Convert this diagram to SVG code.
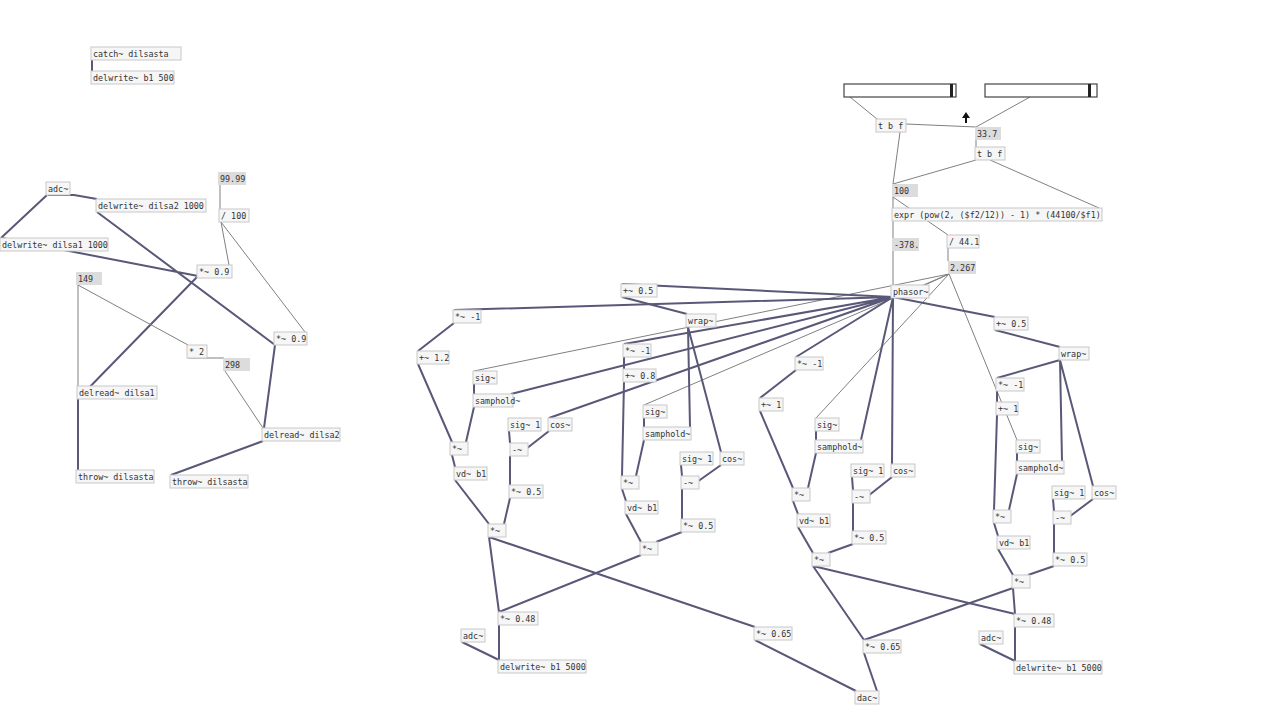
<svg xmlns="http://www.w3.org/2000/svg" width="1280" height="720" viewBox="0 0 1280 720">
<style>
.o rect{fill:#f6f6f6;stroke:#c8c8c8;stroke-width:1}
.a rect{fill:#dcdcdc;stroke:none}
text{font-family:"DejaVu Sans Mono","Liberation Mono",monospace;font-size:8.4px;fill:#333}
.s{stroke:#5a5878;stroke-width:2;fill:none}
.c{stroke:#808080;stroke-width:1;fill:none}
.sl{fill:#fff;stroke:#444;stroke-width:1.2}
</style>
<rect width="1280" height="720" fill="#fff"/>
<g id="connectors">
<path class="s" d="M92 60L92 71"/>
<path class="s" d="M47 195L1 238M48 195L74 195L97 199M97 212L275 345M2 238L198 276M263 441L171 475M275 345L264 428M78 399L198 276M78 399L78 470"/>
<path class="c" d="M220 185L220 209M221 222L229 265M221 222L305 332M78 285L78 386M78 285L188 345M188 358L224 358M225 371L263 428"/>
<path class="c" d="M850 97L877 119M1030 97L976 127M906 124L976 127M900 132L893 184M976 140L976 147M976 160L893 184M990 160L1099 208M893 197L893 208M893 197L948 235M893 221L893 238M893 251L893 285M948 248L948 261M949 274L925 285M949 274L474 371M949 274L644 405M949 274L816 418M949 274L1017 440"/>
<path class="s" d="M893 297L622 284M893 297L454 310M893 297L511 394M893 297L549 418M893 297L624 344M893 297L796 357M893 297L861 440M893 297L892 464M893 297L995 317"/>
<path class="s" d="M622 297L687 314M688 327L690 427M688 327L721 452M995 330L1060 347M1060 360L997 378M1060 360L1062 461M1060 360L1093 486"/>
<path class="s" d="M454 323L418 351M418 364L452 442M474 384L474 394M474 407L466 442M509 431L510 443M549 431L526 449M510 456L510 485M452 455L455 467M455 480L489 524M510 498L504 524"/>
<path class="s" d="M624 357L624 369M624 382L622 476M644 418L644 427M644 440L636 476M681 465L682 476M721 465L697 482M682 489L682 519M622 489L626 501M626 514L641 542M682 532L656 542"/>
<path class="s" d="M796 370L760 398M760 411L793 488M816 431L816 440M816 453L808 488M852 477L853 490M892 477L868 496M853 503L853 531M793 501L798 514M798 527L813 553M853 544L828 553"/>
<path class="s" d="M997 391L997 402M997 415L994 510M1017 453L1017 461M1017 474L1009 510M1053 499L1054 511M1093 499L1069 517M1054 524L1054 553M994 523L998 536M998 549L1013 575M1054 566L1028 575"/>
<path class="s" d="M489 537L499 612M489 537L755 627M641 555L499 612M813 566L864 640M813 566L1015 614M1013 588L1015 614M1013 588L864 640M499 625L499 660M462 642L499 660M755 640L856 691M864 653L877 691M1015 627L1015 661M980 644L1015 661"/>
</g>
<g id="sliders">
<rect class="sl" x="844" y="84" width="112" height="13"/><rect x="950" y="84" width="3" height="13" fill="#222"/>
<rect class="sl" x="985" y="84" width="112" height="13"/><rect x="1088" y="84" width="3" height="13" fill="#222"/>
<path d="M966 112L962 118L965 118L965 123L967 123L967 118L970 118Z" fill="#111"/>
</g>
<g id="n1" class="o"><rect x="91" y="47" width="90" height="13"/><text x="93" y="57">catch~ dilsasta</text></g>
<g id="n2" class="o"><rect x="91" y="71" width="83" height="13"/><text x="93" y="81">delwrite~ b1 500</text></g>
<g id="n3" class="o"><rect x="46" y="182" width="24" height="13"/><text x="48" y="192">adc~</text></g>
<g id="n4" class="o"><rect x="96" y="199" width="110" height="13"/><text x="98" y="209">delwrite~ dilsa2 1000</text></g>
<g id="n5" class="o"><rect x="0" y="238" width="108" height="13"/><text x="2" y="248">delwrite~ dilsa1 1000</text></g>
<g id="n6" class="a"><rect x="218" y="172" width="28" height="13"/><text x="220" y="182">99.99</text></g>
<g id="n7" class="o"><rect x="219" y="209" width="30" height="13"/><text x="221" y="219">/ 100</text></g>
<g id="n8" class="o"><rect x="197" y="265" width="35" height="13"/><text x="199" y="275">*~ 0.9</text></g>
<g id="n9" class="a"><rect x="76" y="272" width="26" height="13"/><text x="78" y="282">149</text></g>
<g id="n10" class="o"><rect x="274" y="332" width="33" height="13"/><text x="276" y="342">*~ 0.9</text></g>
<g id="n11" class="o"><rect x="187" y="345" width="20" height="13"/><text x="189" y="355">* 2</text></g>
<g id="n12" class="a"><rect x="223" y="358" width="27" height="13"/><text x="225" y="368">298</text></g>
<g id="n13" class="o"><rect x="77" y="386" width="80" height="13"/><text x="79" y="396">delread~ dilsa1</text></g>
<g id="n14" class="o"><rect x="262" y="428" width="78" height="13"/><text x="264" y="438">delread~ dilsa2</text></g>
<g id="n15" class="o"><rect x="76" y="470" width="78" height="13"/><text x="78" y="480">throw~ dilsasta</text></g>
<g id="n16" class="o"><rect x="170" y="475" width="78" height="13"/><text x="172" y="485">throw~ dilsasta</text></g>
<g id="n17" class="o"><rect x="876" y="119" width="30" height="13"/><text x="878" y="129">t b f</text></g>
<g id="n18" class="a"><rect x="975" y="127" width="26" height="13"/><text x="977" y="137">33.7</text></g>
<g id="n19" class="o"><rect x="975" y="147" width="30" height="13"/><text x="977" y="157">t b f</text></g>
<g id="n20" class="a"><rect x="892" y="184" width="26" height="13"/><text x="894" y="194">100</text></g>
<g id="n21" class="o"><rect x="892" y="208" width="210" height="13"/><text x="894" y="218">expr (pow(2, ($f2/12)) - 1) * (44100/$f1)</text></g>
<g id="n22" class="a"><rect x="892" y="238" width="27" height="13"/><text x="894" y="248">-378.</text></g>
<g id="n23" class="o"><rect x="947" y="235" width="32" height="13"/><text x="949" y="245">/ 44.1</text></g>
<g id="n24" class="a"><rect x="948" y="261" width="28" height="13"/><text x="950" y="271">2.267</text></g>
<g id="n25" class="o"><rect x="891" y="285" width="38" height="13"/><text x="893" y="295">phasor~</text></g>
<g id="c1a" class="o"><rect x="621" y="284" width="36" height="13"/><text x="623" y="294">+~ 0.5</text></g>
<g id="c1b" class="o"><rect x="453" y="310" width="28" height="13"/><text x="455" y="320">*~ -1</text></g>
<g id="c1c" class="o"><rect x="686" y="314" width="30" height="13"/><text x="688" y="324">wrap~</text></g>
<g id="c1d" class="o"><rect x="417" y="351" width="32" height="13"/><text x="419" y="361">+~ 1.2</text></g>
<g id="c1e" class="o"><rect x="473" y="371" width="24" height="13"/><text x="475" y="381">sig~</text></g>
<g id="c1f" class="o"><rect x="473" y="394" width="40" height="13"/><text x="475" y="404">samphold~</text></g>
<g id="c1g" class="o"><rect x="508" y="418" width="33" height="13"/><text x="510" y="428">sig~ 1</text></g>
<g id="c1h" class="o"><rect x="548" y="418" width="24" height="13"/><text x="550" y="428">cos~</text></g>
<g id="c1i" class="o"><rect x="450" y="442" width="18" height="13"/><text x="452" y="452">*~</text></g>
<g id="c1j" class="o"><rect x="510" y="443" width="18" height="13"/><text x="512" y="453">-~</text></g>
<g id="c1k" class="o"><rect x="454" y="467" width="33" height="13"/><text x="456" y="477">vd~ b1</text></g>
<g id="c1l" class="o"><rect x="509" y="485" width="34" height="13"/><text x="511" y="495">*~ 0.5</text></g>
<g id="c1m" class="o"><rect x="488" y="524" width="18" height="13"/><text x="490" y="534">*~</text></g>
<g id="c2a" class="o"><rect x="623" y="344" width="28" height="13"/><text x="625" y="354">*~ -1</text></g>
<g id="c2b" class="o"><rect x="623" y="369" width="33" height="13"/><text x="625" y="379">+~ 0.8</text></g>
<g id="c2c" class="o"><rect x="643" y="405" width="24" height="13"/><text x="645" y="415">sig~</text></g>
<g id="c2d" class="o"><rect x="643" y="427" width="48" height="13"/><text x="645" y="437">samphold~</text></g>
<g id="c2e" class="o"><rect x="680" y="452" width="33" height="13"/><text x="682" y="462">sig~ 1</text></g>
<g id="c2f" class="o"><rect x="720" y="452" width="24" height="13"/><text x="722" y="462">cos~</text></g>
<g id="c2g" class="o"><rect x="621" y="476" width="18" height="13"/><text x="623" y="486">*~</text></g>
<g id="c2h" class="o"><rect x="681" y="476" width="18" height="13"/><text x="683" y="486">-~</text></g>
<g id="c2i" class="o"><rect x="625" y="501" width="33" height="13"/><text x="627" y="511">vd~ b1</text></g>
<g id="c2j" class="o"><rect x="681" y="519" width="34" height="13"/><text x="683" y="529">*~ 0.5</text></g>
<g id="c2k" class="o"><rect x="640" y="542" width="18" height="13"/><text x="642" y="552">*~</text></g>
<g id="c3a" class="o"><rect x="795" y="357" width="28" height="13"/><text x="797" y="367">*~ -1</text></g>
<g id="c3b" class="o"><rect x="759" y="398" width="24" height="13"/><text x="761" y="408">+~ 1</text></g>
<g id="c3c" class="o"><rect x="815" y="418" width="24" height="13"/><text x="817" y="428">sig~</text></g>
<g id="c3d" class="o"><rect x="815" y="440" width="48" height="13"/><text x="817" y="450">samphold~</text></g>
<g id="c3e" class="o"><rect x="851" y="464" width="33" height="13"/><text x="853" y="474">sig~ 1</text></g>
<g id="c3f" class="o"><rect x="891" y="464" width="24" height="13"/><text x="893" y="474">cos~</text></g>
<g id="c3g" class="o"><rect x="792" y="488" width="18" height="13"/><text x="794" y="498">*~</text></g>
<g id="c3h" class="o"><rect x="852" y="490" width="18" height="13"/><text x="854" y="500">-~</text></g>
<g id="c3i" class="o"><rect x="797" y="514" width="33" height="13"/><text x="799" y="524">vd~ b1</text></g>
<g id="c3j" class="o"><rect x="852" y="531" width="34" height="13"/><text x="854" y="541">*~ 0.5</text></g>
<g id="c3k" class="o"><rect x="812" y="553" width="18" height="13"/><text x="814" y="563">*~</text></g>
<g id="c4a" class="o"><rect x="994" y="317" width="34" height="13"/><text x="996" y="327">+~ 0.5</text></g>
<g id="c4b" class="o"><rect x="1059" y="347" width="30" height="13"/><text x="1061" y="357">wrap~</text></g>
<g id="c4c" class="o"><rect x="996" y="378" width="28" height="13"/><text x="998" y="388">*~ -1</text></g>
<g id="c4d" class="o"><rect x="996" y="402" width="22" height="13"/><text x="998" y="412">+~ 1</text></g>
<g id="c4e" class="o"><rect x="1016" y="440" width="24" height="13"/><text x="1018" y="450">sig~</text></g>
<g id="c4f" class="o"><rect x="1016" y="461" width="48" height="13"/><text x="1018" y="471">samphold~</text></g>
<g id="c4g" class="o"><rect x="1052" y="486" width="33" height="13"/><text x="1054" y="496">sig~ 1</text></g>
<g id="c4h" class="o"><rect x="1092" y="486" width="24" height="13"/><text x="1094" y="496">cos~</text></g>
<g id="c4i" class="o"><rect x="993" y="510" width="18" height="13"/><text x="995" y="520">*~</text></g>
<g id="c4j" class="o"><rect x="1053" y="511" width="18" height="13"/><text x="1055" y="521">-~</text></g>
<g id="c4k" class="o"><rect x="997" y="536" width="33" height="13"/><text x="999" y="546">vd~ b1</text></g>
<g id="c4l" class="o"><rect x="1053" y="553" width="34" height="13"/><text x="1055" y="563">*~ 0.5</text></g>
<g id="c4m" class="o"><rect x="1012" y="575" width="18" height="13"/><text x="1014" y="585">*~</text></g>
<g id="b1" class="o"><rect x="498" y="612" width="40" height="13"/><text x="500" y="622">*~ 0.48</text></g>
<g id="b2" class="o"><rect x="461" y="629" width="24" height="13"/><text x="463" y="639">adc~</text></g>
<g id="b3" class="o"><rect x="498" y="660" width="88" height="13"/><text x="500" y="670">delwrite~ b1 5000</text></g>
<g id="b4" class="o"><rect x="754" y="627" width="38" height="13"/><text x="756" y="637">*~ 0.65</text></g>
<g id="b5" class="o"><rect x="863" y="640" width="38" height="13"/><text x="865" y="650">*~ 0.65</text></g>
<g id="b6" class="o"><rect x="855" y="691" width="24" height="13"/><text x="857" y="701">dac~</text></g>
<g id="b7" class="o"><rect x="1014" y="614" width="40" height="13"/><text x="1016" y="624">*~ 0.48</text></g>
<g id="b8" class="o"><rect x="979" y="631" width="24" height="13"/><text x="981" y="641">adc~</text></g>
<g id="b9" class="o"><rect x="1014" y="661" width="88" height="13"/><text x="1016" y="671">delwrite~ b1 5000</text></g>
</svg>
